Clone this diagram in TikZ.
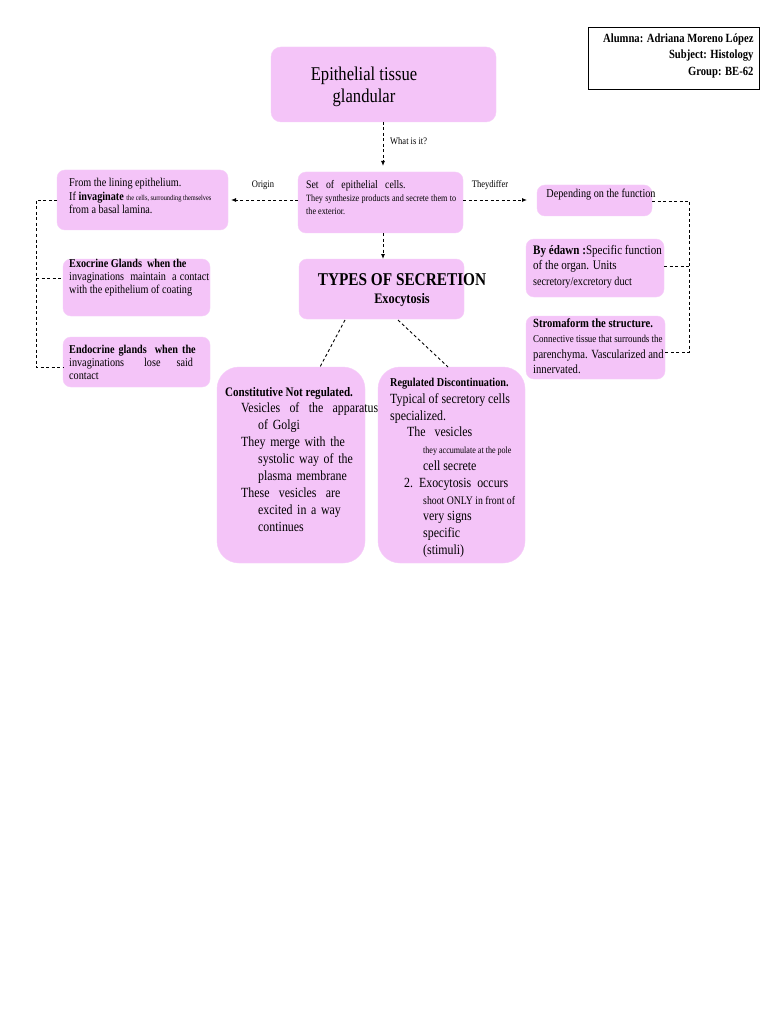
\documentclass[tikz,border=0pt]{standalone}
\usepackage{fontspec}
\setmainfont{Liberation Serif}[FakeStretch=0.85]
\usetikzlibrary{arrows.meta}
\definecolor{pk}{HTML}{F4C4F8}
\begin{document}
\begin{tikzpicture}[x=1pt,y=-1pt,
 box/.style={fill=pk,draw=pk!85!white,rounded corners=8pt,inner sep=0pt},
 dl/.style={dash pattern=on 3pt off 2.5pt,line width=0.9pt},
 ar/.style={dl,-{Latex[length=5pt,width=4pt]}},
 t/.style={align=left,anchor=north west,inner sep=0pt},
 lb/.style={font=\fontsize{10}{11}\selectfont,inner sep=0pt}]
\fill[white] (0,0) rectangle (768,1024);
\useasboundingbox (0,0) rectangle (768,1024);
% boxes
\draw[box,rounded corners=10pt] (271,47) rectangle (496,122);
\node[font=\fontsize{19.5}{22}\selectfont,align=center] (top) at (364,87) {Epithelial tissue\\glandular};
\coordinate (topb) at (383,122);
\draw[thick] (588,27) rectangle (759,89);
\node[font=\bfseries\fontsize{12.5}{16.5}\selectfont,align=right,anchor=north east] (alu) at (757,30) {Alumna: Adriana Moreno López\\Subject: Histology\\Group: BE-62};
\draw[box] (298,172) rectangle (463,233); \coordinate (set) at (383,200);
\node[t,font=\fontsize{11.5}{13}\selectfont,text width=150pt,align=justify] (settx) at (306,180) {Set \ \ of \ \ epithelial \ \ cells.\\ {\fontsize{9.6}{12}\selectfont They synthesize products and secrete them to the exterior.}};
\draw[box] (57,170) rectangle (228,230); \coordinate (from) at (142,200);
\node[t,font=\fontsize{12}{13.5}\selectfont] (fromtx) at (69,178) {From the lining epithelium.\\If \textbf{invaginate} {\fontsize{7.5}{8}\selectfont the cells, surrounding themselves}\\from a basal lamina.};
\draw[box] (63,259) rectangle (210,316); \coordinate (exo) at (136,287);
\node[t,font=\fontsize{12}{13}\selectfont,text width=140pt,align=justify] (exotx) at (69,259) {\textbf{Exocrine Glands \ when the}\\ invaginations \ maintain \ a contact with the epithelium of coating};
\draw[box] (63,337) rectangle (210,387); \coordinate (endo) at (136,362);
\node[t,font=\fontsize{12}{13}\selectfont,text width=140pt] (endotx) at (69,345) {\textbf{Endocrine glands \ when the}\\ invaginations \quad\ lose \quad said\\contact};
\draw[box] (299,259) rectangle (464,319); \coordinate (types) at (381,289);
\node[font=\bfseries\fontsize{18}{20}\selectfont,align=center] (typestx) at (402,290) {TYPES OF SECRETION\\[-2pt]{\fontsize{14.5}{16}\selectfont Exocytosis}};
\draw[box,rounded corners=22pt] (217,367) rectangle (365,563); \coordinate (con) at (320,367);
\node[t,font=\fontsize{13}{14}\selectfont] (contx) at (225,387) {\textbf{Constitutive Not regulated.}};
\node[t,font=\fontsize{14}{17}\selectfont,text width=150pt,align=left] (contx2) at (241,402) {Vesicles\ \ of\ \ the\ \ apparatus\\\hspace*{17pt}of Golgi\\They merge with the\\\hspace*{17pt}systolic way of the\\\hspace*{17pt}plasma membrane\\These\ \ vesicles\ \ are\\\hspace*{17pt}excited in a way\\\hspace*{17pt}continues};
\draw[box,rounded corners=22pt] (378,367) rectangle (525,563); \coordinate (reg) at (448,367);
\node[t,font=\fontsize{14}{16.8}\selectfont] (regtx) at (390,378) {{\bfseries\fontsize{12}{12}\selectfont Regulated Discontinuation.}\\Typical of secretory cells\\specialized.\\\hspace*{17pt}The\ \ \ vesicles\\\hspace*{33pt}{\fontsize{9.5}{10}\selectfont they accumulate at the pole}\\\hspace*{33pt}cell secrete\\\hspace*{14pt}2.\ \ Exocytosis\ \ occurs\\\hspace*{33pt}{\fontsize{11.5}{12}\selectfont shoot ONLY in front of}\\\hspace*{33pt}very signs\\\hspace*{33pt}specific\\\hspace*{33pt}(stimuli)};
\draw[box] (537,185) rectangle (652,216); \coordinate (dep) at (652,201);
\node[font=\fontsize{12}{13}\selectfont] (deptx) at (601,195) {Depending on the function};
\draw[box] (526,239) rectangle (664,297); \coordinate (by) at (664,266);
\node[t,font=\fontsize{13}{15.5}\selectfont] (bytx) at (533,245) {\textbf{By édawn :}Specific function\\of the organ. Units\\{\fontsize{12}{13}\selectfont secretory/excretory duct}};
\draw[box] (526,316) rectangle (665,379); \coordinate (str) at (665,352);
\node[t,font=\fontsize{12.5}{15.5}\selectfont] (strtx) at (533,318) {\textbf{Stromaform the structure.}\\{\fontsize{10.5}{13}\selectfont Connective tissue that surrounds the}\\parenchyma. Vascularized and\\innervated.};
% connectors
\draw[ar] (topb) -- (383,166);
\node[lb,anchor=west] (q) at (390,141) {What is it?};
\draw[ar] (298,200) -- (231,200);
\node[lb] (orig) at (263,185) {Origin};
\draw[ar] (463,200) -- (527,200);
\node[lb] (dif) at (490,185) {Theydiffer};
\draw[ar] (383,233) -- (383,259);
\draw[dl] (345,320) -- (con);
\draw[dl] (398,320) -- (reg);
\draw[dl] (57,200) -- (36,200) -- (36,367) -- (63,367);
\draw[dl] (36,278) -- (63,278);
\draw[dl] (dep) -- (689,201) -- (689,352) -- (str);
\draw[dl] (by) -- (689,266);
\end{tikzpicture}
\end{document}
